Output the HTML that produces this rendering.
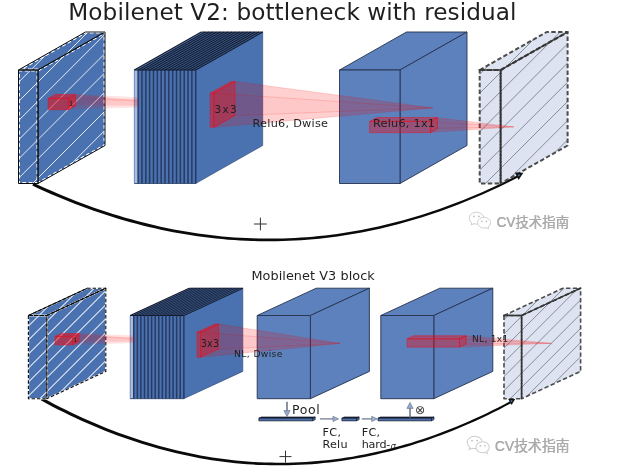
<!DOCTYPE html>
<html lang="zh"><head><meta charset="utf-8"><title>Mobilenet V2 / V3 blocks</title>
<style>html,body{margin:0;padding:0;background:#fff}svg{display:block}</style></head>
<body>
<svg width="639" height="474" viewBox="0 0 639 474" font-family="'DejaVu Sans','Liberation Sans',sans-serif">
<rect width="639" height="474" fill="#ffffff"/>
<text x="68.32" y="20.20" font-size="23.2" fill="#1f1f1f" letter-spacing="0.056">Mobilenet V2: bottleneck with residual</text>
<polygon points="32.34,185.60 38.48,188.45 44.62,191.22 50.76,193.92 56.89,196.54 63.03,199.09 69.16,201.56 75.29,203.96 81.42,206.28 87.55,208.53 93.68,210.71 99.80,212.81 105.93,214.83 112.05,216.78 118.17,218.66 124.29,220.46 130.41,222.19 136.53,223.84 142.64,225.42 148.76,226.92 154.87,228.35 160.98,229.70 167.09,230.98 173.19,232.18 179.30,233.31 185.40,234.36 191.51,235.34 197.61,236.24 203.71,237.07 209.80,237.83 215.90,238.51 222.00,239.11 228.09,239.65 234.18,240.10 240.27,240.48 246.36,240.79 252.44,241.02 258.53,241.18 264.61,241.26 270.69,241.27 276.77,241.20 282.85,241.06 288.93,240.84 295.00,240.55 301.07,240.18 307.14,239.74 313.21,239.23 319.28,238.64 325.35,237.97 331.41,237.23 337.47,236.42 343.53,235.53 349.59,234.56 355.65,233.53 361.70,232.41 367.76,231.23 373.81,229.96 379.86,228.63 385.91,227.21 391.95,225.73 398.00,224.17 404.04,222.53 410.08,220.82 416.12,219.04 422.16,217.18 428.19,215.24 434.22,213.23 440.26,211.15 446.29,208.99 452.31,206.76 458.34,204.45 464.36,202.07 470.39,199.61 476.41,197.08 482.43,194.48 488.44,191.80 494.46,189.04 500.47,186.21 506.48,183.31 512.49,180.33 518.50,177.28 517.50,175.32 511.50,178.35 505.51,181.31 499.51,184.20 493.52,187.01 487.52,189.74 481.52,192.40 475.52,194.99 469.51,197.50 463.51,199.93 457.50,202.30 451.50,204.58 445.49,206.80 439.48,208.94 433.47,211.00 427.46,212.99 421.44,214.90 415.43,216.75 409.41,218.51 403.40,220.20 397.38,221.82 391.36,223.36 385.34,224.83 379.32,226.23 373.29,227.55 367.27,228.79 361.24,229.96 355.21,231.06 349.18,232.08 343.15,233.03 337.12,233.90 331.09,234.70 325.05,235.43 319.02,236.08 312.98,236.65 306.94,237.16 300.90,237.58 294.86,237.94 288.82,238.22 282.77,238.42 276.73,238.55 270.68,238.61 264.63,238.59 258.58,238.49 252.53,238.33 246.48,238.09 240.42,237.77 234.37,237.38 228.31,236.91 222.25,236.38 216.19,235.76 210.13,235.07 204.07,234.31 198.00,233.48 191.94,232.57 185.87,231.58 179.80,230.52 173.73,229.39 167.66,228.18 161.58,226.90 155.51,225.54 149.43,224.11 143.35,222.61 137.27,221.03 131.19,219.37 125.11,217.64 119.02,215.84 112.93,213.97 106.85,212.01 100.76,209.99 94.67,207.89 88.57,205.71 82.48,203.47 76.38,201.14 70.28,198.74 64.18,196.27 58.08,193.73 51.98,191.11 45.87,188.41 39.77,185.64 33.66,182.80" fill="#0a0a0a"/>
<polygon points="18.50,70.00 85.50,32.00 105.00,32.00 38.00,70.00" fill="#4a72b0"/>
<polygon points="38.00,70.00 105.00,32.00 105.00,145.50 38.00,183.50" fill="#4a72b0"/>
<polygon points="18.50,70.00 38.00,70.00 38.00,183.50 18.50,183.50" fill="#4a72b0"/>
<clipPath id="c1"><polygon points="18.50,70.00 38.00,70.00 38.00,183.50 18.50,183.50"/><polygon points="38.00,70.00 105.00,32.00 105.00,145.50 38.00,183.50"/><polygon points="18.50,70.00 85.50,32.00 105.00,32.00 38.00,70.00"/></clipPath>
<g clip-path="url(#c1)" stroke="#ffffff" stroke-width="1.0" stroke-opacity="0.85">
<line x1="16.50" y1="45.90" x2="107.00" y2="-44.60" />
<line x1="16.50" y1="65.10" x2="107.00" y2="-25.40" />
<line x1="16.50" y1="84.30" x2="107.00" y2="-6.20" />
<line x1="16.50" y1="103.50" x2="107.00" y2="13.00" />
<line x1="16.50" y1="122.70" x2="107.00" y2="32.20" />
<line x1="16.50" y1="141.90" x2="107.00" y2="51.40" />
<line x1="16.50" y1="161.10" x2="107.00" y2="70.60" />
<line x1="16.50" y1="180.30" x2="107.00" y2="89.80" />
<line x1="16.50" y1="199.50" x2="107.00" y2="109.00" />
<line x1="16.50" y1="218.70" x2="107.00" y2="128.20" />
<line x1="16.50" y1="237.90" x2="107.00" y2="147.40" />
<line x1="16.50" y1="257.10" x2="107.00" y2="166.60" />
</g>
<clipPath id="c2"><polygon points="18.50,70.00 38.00,70.00 38.00,183.50 18.50,183.50"/></clipPath>
<polygon points="18.50,70.00 38.00,70.00 38.00,183.50 18.50,183.50" clip-path="url(#c2)" fill="none" stroke="#ffffff" stroke-width="3.0" stroke-dasharray="3.7 2.6"/>
<clipPath id="c3"><polygon points="18.50,70.00 85.50,32.00 105.00,32.00 38.00,70.00"/></clipPath>
<polyline points="38.00,70.00 18.50,70.00 85.50,32.00 105.00,32.00" clip-path="url(#c3)" fill="none" stroke="#ffffff" stroke-width="3.0" stroke-dasharray="3.7 2.6"/>
<clipPath id="c4"><polygon points="38.00,70.00 105.00,32.00 105.00,145.50 38.00,183.50"/></clipPath>
<polyline points="38.00,70.00 105.00,32.00 105.00,145.50 38.00,183.50" clip-path="url(#c4)" fill="none" stroke="#ffffff" stroke-width="3.0" stroke-dasharray="3.7 2.6"/>
<polygon points="18.50,70.00 85.50,32.00 105.00,32.00 38.00,70.00" fill="none" stroke="#0c0c0c" stroke-width="1.0" stroke-linejoin="round"/>
<polygon points="38.00,70.00 105.00,32.00 105.00,145.50 38.00,183.50" fill="none" stroke="#0c0c0c" stroke-width="1.0" stroke-linejoin="round"/>
<polygon points="18.50,70.00 38.00,70.00 38.00,183.50 18.50,183.50" fill="none" stroke="#0c0c0c" stroke-width="1.0" stroke-linejoin="round"/>
<line x1="85.50" y1="32.00" x2="105.00" y2="32.00" stroke="#9a9a9a" stroke-width="1.2"/>
<polygon points="134.30,70.00 201.30,32.00 262.70,32.00 195.70,70.00" fill="#2a3d63"/>
<polygon points="195.70,70.00 262.70,32.00 262.70,145.50 195.70,183.50" fill="#4a72b0" stroke="#2b4170" stroke-width="0.6"/>
<polygon points="134.30,70.00 195.70,70.00 195.70,183.50 134.30,183.50" fill="#4a72b0"/>
<polygon points="134.30,70.00 138.14,70.00 138.14,183.50 134.30,183.50" fill="#a9bbde"/>
<polygon points="134.30,70.00 201.30,32.00 205.14,32.00 138.14,70.00" fill="#5d7fb8"/>
<line x1="134.30" y1="70.00" x2="201.30" y2="32.00" stroke="#141c2e" stroke-width="1.1"/>
<line x1="138.14" y1="70.00" x2="205.14" y2="32.00" stroke="#141c2e" stroke-width="1.1"/>
<line x1="141.98" y1="70.00" x2="208.98" y2="32.00" stroke="#141c2e" stroke-width="1.1"/>
<line x1="145.81" y1="70.00" x2="212.81" y2="32.00" stroke="#141c2e" stroke-width="1.1"/>
<line x1="149.65" y1="70.00" x2="216.65" y2="32.00" stroke="#141c2e" stroke-width="1.1"/>
<line x1="153.49" y1="70.00" x2="220.49" y2="32.00" stroke="#141c2e" stroke-width="1.1"/>
<line x1="157.33" y1="70.00" x2="224.33" y2="32.00" stroke="#141c2e" stroke-width="1.1"/>
<line x1="161.16" y1="70.00" x2="228.16" y2="32.00" stroke="#141c2e" stroke-width="1.1"/>
<line x1="165.00" y1="70.00" x2="232.00" y2="32.00" stroke="#141c2e" stroke-width="1.1"/>
<line x1="168.84" y1="70.00" x2="235.84" y2="32.00" stroke="#141c2e" stroke-width="1.1"/>
<line x1="172.68" y1="70.00" x2="239.68" y2="32.00" stroke="#141c2e" stroke-width="1.1"/>
<line x1="176.51" y1="70.00" x2="243.51" y2="32.00" stroke="#141c2e" stroke-width="1.1"/>
<line x1="180.35" y1="70.00" x2="247.35" y2="32.00" stroke="#141c2e" stroke-width="1.1"/>
<line x1="184.19" y1="70.00" x2="251.19" y2="32.00" stroke="#141c2e" stroke-width="1.1"/>
<line x1="188.03" y1="70.00" x2="255.03" y2="32.00" stroke="#141c2e" stroke-width="1.1"/>
<line x1="191.86" y1="70.00" x2="258.86" y2="32.00" stroke="#141c2e" stroke-width="1.1"/>
<line x1="195.70" y1="70.00" x2="262.70" y2="32.00" stroke="#141c2e" stroke-width="1.1"/>
<line x1="140.06" y1="70.00" x2="207.06" y2="32.00" stroke="#4a72b0" stroke-width="0.55" stroke-opacity="0.9"/>
<line x1="143.89" y1="70.00" x2="210.89" y2="32.00" stroke="#4a72b0" stroke-width="0.55" stroke-opacity="0.9"/>
<line x1="147.73" y1="70.00" x2="214.73" y2="32.00" stroke="#4a72b0" stroke-width="0.55" stroke-opacity="0.9"/>
<line x1="151.57" y1="70.00" x2="218.57" y2="32.00" stroke="#4a72b0" stroke-width="0.55" stroke-opacity="0.9"/>
<line x1="155.41" y1="70.00" x2="222.41" y2="32.00" stroke="#4a72b0" stroke-width="0.55" stroke-opacity="0.9"/>
<line x1="159.24" y1="70.00" x2="226.24" y2="32.00" stroke="#4a72b0" stroke-width="0.55" stroke-opacity="0.9"/>
<line x1="163.08" y1="70.00" x2="230.08" y2="32.00" stroke="#4a72b0" stroke-width="0.55" stroke-opacity="0.9"/>
<line x1="166.92" y1="70.00" x2="233.92" y2="32.00" stroke="#4a72b0" stroke-width="0.55" stroke-opacity="0.9"/>
<line x1="170.76" y1="70.00" x2="237.76" y2="32.00" stroke="#4a72b0" stroke-width="0.55" stroke-opacity="0.9"/>
<line x1="174.59" y1="70.00" x2="241.59" y2="32.00" stroke="#4a72b0" stroke-width="0.55" stroke-opacity="0.9"/>
<line x1="178.43" y1="70.00" x2="245.43" y2="32.00" stroke="#4a72b0" stroke-width="0.55" stroke-opacity="0.9"/>
<line x1="182.27" y1="70.00" x2="249.27" y2="32.00" stroke="#4a72b0" stroke-width="0.55" stroke-opacity="0.9"/>
<line x1="186.11" y1="70.00" x2="253.11" y2="32.00" stroke="#4a72b0" stroke-width="0.55" stroke-opacity="0.9"/>
<line x1="189.94" y1="70.00" x2="256.94" y2="32.00" stroke="#4a72b0" stroke-width="0.55" stroke-opacity="0.9"/>
<line x1="193.78" y1="70.00" x2="260.78" y2="32.00" stroke="#4a72b0" stroke-width="0.55" stroke-opacity="0.9"/>
<line x1="138.14" y1="70.00" x2="138.14" y2="183.50" stroke="#273a62" stroke-width="1.5"/>
<line x1="141.98" y1="70.00" x2="141.98" y2="183.50" stroke="#273a62" stroke-width="1.5"/>
<line x1="145.81" y1="70.00" x2="145.81" y2="183.50" stroke="#273a62" stroke-width="1.5"/>
<line x1="149.65" y1="70.00" x2="149.65" y2="183.50" stroke="#273a62" stroke-width="1.5"/>
<line x1="153.49" y1="70.00" x2="153.49" y2="183.50" stroke="#273a62" stroke-width="1.5"/>
<line x1="157.33" y1="70.00" x2="157.33" y2="183.50" stroke="#273a62" stroke-width="1.5"/>
<line x1="161.16" y1="70.00" x2="161.16" y2="183.50" stroke="#273a62" stroke-width="1.5"/>
<line x1="165.00" y1="70.00" x2="165.00" y2="183.50" stroke="#273a62" stroke-width="1.5"/>
<line x1="168.84" y1="70.00" x2="168.84" y2="183.50" stroke="#273a62" stroke-width="1.5"/>
<line x1="172.68" y1="70.00" x2="172.68" y2="183.50" stroke="#273a62" stroke-width="1.5"/>
<line x1="176.51" y1="70.00" x2="176.51" y2="183.50" stroke="#273a62" stroke-width="1.5"/>
<line x1="180.35" y1="70.00" x2="180.35" y2="183.50" stroke="#273a62" stroke-width="1.5"/>
<line x1="184.19" y1="70.00" x2="184.19" y2="183.50" stroke="#273a62" stroke-width="1.5"/>
<line x1="188.03" y1="70.00" x2="188.03" y2="183.50" stroke="#273a62" stroke-width="1.5"/>
<line x1="191.86" y1="70.00" x2="191.86" y2="183.50" stroke="#273a62" stroke-width="1.5"/>
<line x1="195.70" y1="70.00" x2="195.70" y2="183.50" stroke="#273a62" stroke-width="1.5"/>
<line x1="134.30" y1="70.00" x2="134.30" y2="183.50" stroke="#6f86b5" stroke-width="0.8"/>
<line x1="134.30" y1="70.00" x2="195.70" y2="70.00" stroke="#141c2e" stroke-width="1.0"/>
<line x1="201.30" y1="32.00" x2="262.70" y2="32.00" stroke="#141c2e" stroke-width="0.9"/>
<line x1="134.30" y1="183.50" x2="195.70" y2="183.50" stroke="#2b3f66" stroke-width="0.8"/>
<polygon points="339.50,70.00 406.50,32.00 467.00,32.00 400.00,70.00" fill="#5c81bc" stroke="#26324e" stroke-width="0.9" stroke-linejoin="round"/>
<polygon points="400.00,70.00 467.00,32.00 467.00,145.50 400.00,183.50" fill="#5c81bc" stroke="#26324e" stroke-width="0.9" stroke-linejoin="round"/>
<polygon points="339.50,70.00 400.00,70.00 400.00,183.50 339.50,183.50" fill="#5c81bc" stroke="#26324e" stroke-width="0.9" stroke-linejoin="round"/>
<polygon points="479.70,70.00 546.70,32.00 567.60,32.00 500.60,70.00" fill="#dde3f0"/>
<polygon points="500.60,70.00 567.60,32.00 567.60,145.50 500.60,183.50" fill="#dde3f0"/>
<polygon points="479.70,70.00 500.60,70.00 500.60,183.50 479.70,183.50" fill="#dde3f0"/>
<clipPath id="c5"><polygon points="479.70,70.00 500.60,70.00 500.60,183.50 479.70,183.50"/><polygon points="500.60,70.00 567.60,32.00 567.60,145.50 500.60,183.50"/><polygon points="479.70,70.00 546.70,32.00 567.60,32.00 500.60,70.00"/></clipPath>
<g clip-path="url(#c5)" stroke="#555b66" stroke-width="0.7" stroke-opacity="0.9">
<line x1="477.70" y1="37.70" x2="569.60" y2="-54.20" />
<line x1="477.70" y1="56.90" x2="569.60" y2="-35.00" />
<line x1="477.70" y1="76.10" x2="569.60" y2="-15.80" />
<line x1="477.70" y1="95.30" x2="569.60" y2="3.40" />
<line x1="477.70" y1="114.50" x2="569.60" y2="22.60" />
<line x1="477.70" y1="133.70" x2="569.60" y2="41.80" />
<line x1="477.70" y1="152.90" x2="569.60" y2="61.00" />
<line x1="477.70" y1="172.10" x2="569.60" y2="80.20" />
<line x1="477.70" y1="191.30" x2="569.60" y2="99.40" />
<line x1="477.70" y1="210.50" x2="569.60" y2="118.60" />
<line x1="477.70" y1="229.70" x2="569.60" y2="137.80" />
<line x1="477.70" y1="248.90" x2="569.60" y2="157.00" />
<line x1="477.70" y1="268.10" x2="569.60" y2="176.20" />
</g>
<polygon points="479.70,70.00 546.70,32.00 567.60,32.00 500.60,70.00" fill="none" stroke="#4c4c4c" stroke-width="2.0" stroke-dasharray="4.4 2.4" stroke-linejoin="round"/>
<polygon points="500.60,70.00 567.60,32.00 567.60,145.50 500.60,183.50" fill="none" stroke="#4c4c4c" stroke-width="2.0" stroke-dasharray="4.4 2.4" stroke-linejoin="round"/>
<polygon points="479.70,70.00 500.60,70.00 500.60,183.50 479.70,183.50" fill="none" stroke="#4c4c4c" stroke-width="2.0" stroke-dasharray="4.4 2.4" stroke-linejoin="round"/>
<line x1="478.70" y1="70.00" x2="500.60" y2="70.00" stroke="#333" stroke-width="1.3"/>
<line x1="500.60" y1="70.00" x2="500.60" y2="183.50" stroke="#333" stroke-width="1.3"/>
<line x1="500.60" y1="70.00" x2="567.60" y2="32.00" stroke="#333" stroke-width="1.3"/>
<polygon points="48.10,98.40 55.30,94.40 75.60,94.40 68.40,98.40" fill="#ff0000" fill-opacity="0.5" stroke="#e0182d" stroke-width="0.7" stroke-opacity="0.8" stroke-linejoin="round"/>
<polygon points="68.40,98.40 75.60,94.40 75.60,105.70 68.40,109.70" fill="#ff0000" fill-opacity="0.5" stroke="#e0182d" stroke-width="0.7" stroke-opacity="0.8" stroke-linejoin="round"/>
<polygon points="48.10,98.40 68.40,98.40 68.40,109.70 48.10,109.70" fill="#ff0000" fill-opacity="0.5" stroke="#e0182d" stroke-width="0.7" stroke-opacity="0.8" stroke-linejoin="round"/>
<polygon points="68.00,98.60 138.10,99.30 138.10,107.50 68.00,109.60" fill="#ff0000" fill-opacity="0.115"/>
<polygon points="75.70,94.30 138.10,97.20 138.10,105.80 75.70,105.30" fill="#ff0000" fill-opacity="0.115"/>
<polygon points="75.70,94.30 138.10,100.50 138.10,101.50 68.00,98.60" fill="#ff0000" fill-opacity="0.12"/>
<text x="68.70" y="105.60" font-size="7.3" fill="#1f1f1f" letter-spacing="-0.169">1</text>
<polygon points="210.10,93.20 231.10,81.50 234.90,81.50 213.90,93.20" fill="#ff0000" fill-opacity="0.42" stroke="#e0182d" stroke-width="0.7" stroke-opacity="0.8" stroke-linejoin="round"/>
<polygon points="213.90,93.20 234.90,81.50 234.90,115.60 213.90,127.30" fill="#ff0000" fill-opacity="0.42" stroke="#e0182d" stroke-width="0.7" stroke-opacity="0.8" stroke-linejoin="round"/>
<polygon points="210.10,93.20 213.90,93.20 213.90,127.30 210.10,127.30" fill="#ff0000" fill-opacity="0.42" stroke="#e0182d" stroke-width="0.7" stroke-opacity="0.8" stroke-linejoin="round"/>
<polygon points="213.90,93.20 432.70,107.90 213.90,127.30" fill="#ff0000" fill-opacity="0.115" stroke="#ff0000" stroke-width="0.5" stroke-opacity="0.16"/>
<polygon points="234.90,81.50 432.70,107.90 234.90,115.60" fill="#ff0000" fill-opacity="0.115" stroke="#ff0000" stroke-width="0.5" stroke-opacity="0.16"/>
<polygon points="213.90,93.20 234.90,81.50 432.70,107.90" fill="#ff0000" fill-opacity="0.08" stroke="#ff0000" stroke-width="0.5" stroke-opacity="0.16"/>
<polygon points="213.90,127.30 234.90,115.60 432.70,107.90" fill="#ff0000" fill-opacity="0.08" stroke="#ff0000" stroke-width="0.5" stroke-opacity="0.16"/>
<text x="214.50" y="112.50" font-size="10.5" fill="#1f1f1f" letter-spacing="1.283">3x3</text>
<text x="252.49" y="126.90" font-size="11.3" fill="#1f1f1f" letter-spacing="0.246">Relu6, Dwise</text>
<polygon points="369.70,121.40 376.50,117.60 437.40,117.60 430.60,121.40" fill="#ff0000" fill-opacity="0.36" stroke="#e0182d" stroke-width="0.7" stroke-opacity="0.8" stroke-linejoin="round"/>
<polygon points="430.60,121.40 437.40,117.60 437.40,128.80 430.60,132.60" fill="#ff0000" fill-opacity="0.36" stroke="#e0182d" stroke-width="0.7" stroke-opacity="0.8" stroke-linejoin="round"/>
<polygon points="369.70,121.40 430.60,121.40 430.60,132.60 369.70,132.60" fill="#ff0000" fill-opacity="0.36" stroke="#e0182d" stroke-width="0.7" stroke-opacity="0.8" stroke-linejoin="round"/>
<polygon points="430.40,121.70 513.70,126.90 430.40,132.30" fill="#ff0000" fill-opacity="0.115" stroke="#ff0000" stroke-width="0.5" stroke-opacity="0.16"/>
<polygon points="436.90,117.70 513.70,126.90 436.90,128.30" fill="#ff0000" fill-opacity="0.115" stroke="#ff0000" stroke-width="0.5" stroke-opacity="0.16"/>
<polygon points="430.40,121.70 436.90,117.70 513.70,126.90" fill="#ff0000" fill-opacity="0.08" stroke="#ff0000" stroke-width="0.5" stroke-opacity="0.16"/>
<polygon points="430.40,132.30 436.90,128.30 513.70,126.90" fill="#ff0000" fill-opacity="0.08" stroke="#ff0000" stroke-width="0.5" stroke-opacity="0.16"/>
<text x="372.89" y="126.70" font-size="11.3" fill="#1f1f1f" letter-spacing="0.234">Relu6, 1x1</text>
<polygon points="523.4,172.7 514.8,172.6 518.6,180.0" fill="#141414"/>
<circle cx="518.9" cy="175.2" r="1.0" fill="#3f6fb3"/>
<line x1="254.00" y1="224.00" x2="266.80" y2="224.00" stroke="#333" stroke-width="1.0"/>
<line x1="260.40" y1="217.60" x2="260.40" y2="230.40" stroke="#333" stroke-width="1.0"/>
<text x="251.44" y="279.50" font-size="12.8" fill="#1f1f1f" letter-spacing="0.076">Mobilenet V3 block</text>
<polygon points="40.76,400.36 46.66,403.53 52.57,406.63 58.47,409.64 64.37,412.58 70.27,415.43 76.17,418.21 82.08,420.91 87.98,423.52 93.88,426.06 99.78,428.52 105.67,430.90 111.57,433.20 117.47,435.42 123.37,437.56 129.27,439.62 135.16,441.61 141.06,443.51 146.95,445.33 152.85,447.08 158.74,448.74 164.64,450.33 170.53,451.83 176.42,453.26 182.31,454.61 188.20,455.87 194.09,457.06 199.98,458.17 205.87,459.20 211.76,460.15 217.65,461.02 223.54,461.81 229.42,462.52 235.31,463.15 241.19,463.71 247.08,464.18 252.96,464.57 258.85,464.89 264.73,465.12 270.61,465.27 276.49,465.35 282.37,465.35 288.25,465.26 294.13,465.10 300.01,464.86 305.88,464.54 311.76,464.13 317.63,463.65 323.51,463.09 329.38,462.45 335.26,461.74 341.13,460.94 347.00,460.06 352.87,459.10 358.74,458.07 364.61,456.95 370.47,455.75 376.34,454.48 382.21,453.12 388.07,451.69 393.93,450.18 399.80,448.59 405.66,446.91 411.52,445.16 417.38,443.33 423.24,441.42 429.10,439.44 434.96,437.37 440.81,435.22 446.67,432.99 452.52,430.69 458.38,428.30 464.23,425.84 470.08,423.29 475.93,420.67 481.78,417.97 487.63,415.19 493.48,412.33 499.33,409.39 505.17,406.37 511.02,403.27 509.98,401.33 504.15,404.41 498.32,407.41 492.49,410.33 486.66,413.16 480.83,415.93 475.00,418.61 469.16,421.21 463.33,423.73 457.50,426.18 451.66,428.54 445.83,430.83 440.00,433.03 434.16,435.16 428.33,437.21 422.49,439.18 416.66,441.07 410.82,442.88 404.99,444.61 399.15,446.26 393.32,447.83 387.48,449.33 381.64,450.74 375.80,452.08 369.97,453.34 364.13,454.51 358.29,455.61 352.45,456.63 346.61,457.57 340.77,458.44 334.93,459.22 329.09,459.92 323.25,460.55 317.41,461.09 311.57,461.56 305.73,461.95 299.88,462.26 294.04,462.48 288.20,462.64 282.35,462.71 276.51,462.70 270.66,462.61 264.82,462.45 258.97,462.20 253.13,461.88 247.28,461.48 241.43,461.00 235.59,460.44 229.74,459.80 223.89,459.08 218.04,458.28 212.19,457.41 206.34,456.45 200.49,455.42 194.63,454.31 188.78,453.11 182.93,451.84 177.07,450.49 171.22,449.07 165.36,447.56 159.51,445.97 153.65,444.31 147.79,442.56 141.94,440.74 136.08,438.83 130.22,436.85 124.36,434.79 118.50,432.65 112.64,430.43 106.77,428.13 100.91,425.76 95.05,423.30 89.18,420.77 83.32,418.15 77.45,415.46 71.59,412.69 65.72,409.84 59.85,406.91 53.98,403.90 48.11,400.81 42.24,397.64" fill="#0a0a0a"/>
<polygon points="28.40,315.50 87.40,288.20 105.80,288.20 46.80,315.50" fill="#4a72b0"/>
<polygon points="46.80,315.50 105.80,288.20 105.80,371.40 46.80,398.70" fill="#4a72b0"/>
<polygon points="28.40,315.50 46.80,315.50 46.80,398.70 28.40,398.70" fill="#4a72b0"/>
<clipPath id="c6"><polygon points="28.40,315.50 46.80,315.50 46.80,398.70 28.40,398.70"/><polygon points="46.80,315.50 105.80,288.20 105.80,371.40 46.80,398.70"/><polygon points="28.40,315.50 87.40,288.20 105.80,288.20 46.80,315.50"/></clipPath>
<g clip-path="url(#c6)" stroke="#ffffff" stroke-width="1.1" stroke-opacity="0.85">
<line x1="26.40" y1="300.10" x2="107.80" y2="218.70" />
<line x1="26.40" y1="314.10" x2="107.80" y2="232.70" />
<line x1="26.40" y1="328.10" x2="107.80" y2="246.70" />
<line x1="26.40" y1="342.10" x2="107.80" y2="260.70" />
<line x1="26.40" y1="356.10" x2="107.80" y2="274.70" />
<line x1="26.40" y1="370.10" x2="107.80" y2="288.70" />
<line x1="26.40" y1="384.10" x2="107.80" y2="302.70" />
<line x1="26.40" y1="398.10" x2="107.80" y2="316.70" />
<line x1="26.40" y1="412.10" x2="107.80" y2="330.70" />
<line x1="26.40" y1="426.10" x2="107.80" y2="344.70" />
<line x1="26.40" y1="440.10" x2="107.80" y2="358.70" />
<line x1="26.40" y1="454.10" x2="107.80" y2="372.70" />
<line x1="26.40" y1="468.10" x2="107.80" y2="386.70" />
</g>
<polygon points="28.40,315.50 87.40,288.20 105.80,288.20 46.80,315.50" fill="none" stroke="#f4f4f4" stroke-width="1.5" stroke-linejoin="round"/>
<polygon points="46.80,315.50 105.80,288.20 105.80,371.40 46.80,398.70" fill="none" stroke="#f4f4f4" stroke-width="1.5" stroke-linejoin="round"/>
<polygon points="28.40,315.50 46.80,315.50 46.80,398.70 28.40,398.70" fill="none" stroke="#f4f4f4" stroke-width="1.5" stroke-linejoin="round"/>
<polygon points="28.40,315.50 87.40,288.20 105.80,288.20 46.80,315.50" fill="none" stroke="#0c0c0c" stroke-width="1.1" stroke-dasharray="3.4 2.0" stroke-linejoin="round"/>
<polygon points="46.80,315.50 105.80,288.20 105.80,371.40 46.80,398.70" fill="none" stroke="#0c0c0c" stroke-width="1.1" stroke-dasharray="3.4 2.0" stroke-linejoin="round"/>
<polygon points="28.40,315.50 46.80,315.50 46.80,398.70 28.40,398.70" fill="none" stroke="#0c0c0c" stroke-width="1.1" stroke-dasharray="3.4 2.0" stroke-linejoin="round"/>
<line x1="46.80" y1="315.50" x2="105.80" y2="288.20" stroke="#0c0c0c" stroke-width="1.0"/>
<line x1="28.40" y1="315.50" x2="87.40" y2="288.20" stroke="#0c0c0c" stroke-width="1.0"/>
<polygon points="130.20,315.50 189.20,288.20 242.80,288.20 183.80,315.50" fill="#2a3d63"/>
<polygon points="183.80,315.50 242.80,288.20 242.80,371.40 183.80,398.70" fill="#4a72b0" stroke="#2b4170" stroke-width="0.6"/>
<polygon points="130.20,315.50 183.80,315.50 183.80,398.70 130.20,398.70" fill="#4a72b0"/>
<polygon points="130.20,315.50 133.77,315.50 133.77,398.70 130.20,398.70" fill="#a9bbde"/>
<polygon points="130.20,315.50 189.20,288.20 192.77,288.20 133.77,315.50" fill="#5d7fb8"/>
<line x1="130.20" y1="315.50" x2="189.20" y2="288.20" stroke="#141c2e" stroke-width="1.1"/>
<line x1="133.77" y1="315.50" x2="192.77" y2="288.20" stroke="#141c2e" stroke-width="1.1"/>
<line x1="137.35" y1="315.50" x2="196.35" y2="288.20" stroke="#141c2e" stroke-width="1.1"/>
<line x1="140.92" y1="315.50" x2="199.92" y2="288.20" stroke="#141c2e" stroke-width="1.1"/>
<line x1="144.49" y1="315.50" x2="203.49" y2="288.20" stroke="#141c2e" stroke-width="1.1"/>
<line x1="148.07" y1="315.50" x2="207.07" y2="288.20" stroke="#141c2e" stroke-width="1.1"/>
<line x1="151.64" y1="315.50" x2="210.64" y2="288.20" stroke="#141c2e" stroke-width="1.1"/>
<line x1="155.21" y1="315.50" x2="214.21" y2="288.20" stroke="#141c2e" stroke-width="1.1"/>
<line x1="158.79" y1="315.50" x2="217.79" y2="288.20" stroke="#141c2e" stroke-width="1.1"/>
<line x1="162.36" y1="315.50" x2="221.36" y2="288.20" stroke="#141c2e" stroke-width="1.1"/>
<line x1="165.93" y1="315.50" x2="224.93" y2="288.20" stroke="#141c2e" stroke-width="1.1"/>
<line x1="169.51" y1="315.50" x2="228.51" y2="288.20" stroke="#141c2e" stroke-width="1.1"/>
<line x1="173.08" y1="315.50" x2="232.08" y2="288.20" stroke="#141c2e" stroke-width="1.1"/>
<line x1="176.65" y1="315.50" x2="235.65" y2="288.20" stroke="#141c2e" stroke-width="1.1"/>
<line x1="180.23" y1="315.50" x2="239.23" y2="288.20" stroke="#141c2e" stroke-width="1.1"/>
<line x1="183.80" y1="315.50" x2="242.80" y2="288.20" stroke="#141c2e" stroke-width="1.1"/>
<line x1="135.56" y1="315.50" x2="194.56" y2="288.20" stroke="#4a72b0" stroke-width="0.55" stroke-opacity="0.9"/>
<line x1="139.13" y1="315.50" x2="198.13" y2="288.20" stroke="#4a72b0" stroke-width="0.55" stroke-opacity="0.9"/>
<line x1="142.71" y1="315.50" x2="201.71" y2="288.20" stroke="#4a72b0" stroke-width="0.55" stroke-opacity="0.9"/>
<line x1="146.28" y1="315.50" x2="205.28" y2="288.20" stroke="#4a72b0" stroke-width="0.55" stroke-opacity="0.9"/>
<line x1="149.85" y1="315.50" x2="208.85" y2="288.20" stroke="#4a72b0" stroke-width="0.55" stroke-opacity="0.9"/>
<line x1="153.43" y1="315.50" x2="212.43" y2="288.20" stroke="#4a72b0" stroke-width="0.55" stroke-opacity="0.9"/>
<line x1="157.00" y1="315.50" x2="216.00" y2="288.20" stroke="#4a72b0" stroke-width="0.55" stroke-opacity="0.9"/>
<line x1="160.57" y1="315.50" x2="219.57" y2="288.20" stroke="#4a72b0" stroke-width="0.55" stroke-opacity="0.9"/>
<line x1="164.15" y1="315.50" x2="223.15" y2="288.20" stroke="#4a72b0" stroke-width="0.55" stroke-opacity="0.9"/>
<line x1="167.72" y1="315.50" x2="226.72" y2="288.20" stroke="#4a72b0" stroke-width="0.55" stroke-opacity="0.9"/>
<line x1="171.29" y1="315.50" x2="230.29" y2="288.20" stroke="#4a72b0" stroke-width="0.55" stroke-opacity="0.9"/>
<line x1="174.87" y1="315.50" x2="233.87" y2="288.20" stroke="#4a72b0" stroke-width="0.55" stroke-opacity="0.9"/>
<line x1="178.44" y1="315.50" x2="237.44" y2="288.20" stroke="#4a72b0" stroke-width="0.55" stroke-opacity="0.9"/>
<line x1="182.01" y1="315.50" x2="241.01" y2="288.20" stroke="#4a72b0" stroke-width="0.55" stroke-opacity="0.9"/>
<line x1="133.77" y1="315.50" x2="133.77" y2="398.70" stroke="#273a62" stroke-width="1.5"/>
<line x1="137.35" y1="315.50" x2="137.35" y2="398.70" stroke="#273a62" stroke-width="1.5"/>
<line x1="140.92" y1="315.50" x2="140.92" y2="398.70" stroke="#273a62" stroke-width="1.5"/>
<line x1="144.49" y1="315.50" x2="144.49" y2="398.70" stroke="#273a62" stroke-width="1.5"/>
<line x1="148.07" y1="315.50" x2="148.07" y2="398.70" stroke="#273a62" stroke-width="1.5"/>
<line x1="151.64" y1="315.50" x2="151.64" y2="398.70" stroke="#273a62" stroke-width="1.5"/>
<line x1="155.21" y1="315.50" x2="155.21" y2="398.70" stroke="#273a62" stroke-width="1.5"/>
<line x1="158.79" y1="315.50" x2="158.79" y2="398.70" stroke="#273a62" stroke-width="1.5"/>
<line x1="162.36" y1="315.50" x2="162.36" y2="398.70" stroke="#273a62" stroke-width="1.5"/>
<line x1="165.93" y1="315.50" x2="165.93" y2="398.70" stroke="#273a62" stroke-width="1.5"/>
<line x1="169.51" y1="315.50" x2="169.51" y2="398.70" stroke="#273a62" stroke-width="1.5"/>
<line x1="173.08" y1="315.50" x2="173.08" y2="398.70" stroke="#273a62" stroke-width="1.5"/>
<line x1="176.65" y1="315.50" x2="176.65" y2="398.70" stroke="#273a62" stroke-width="1.5"/>
<line x1="180.23" y1="315.50" x2="180.23" y2="398.70" stroke="#273a62" stroke-width="1.5"/>
<line x1="183.80" y1="315.50" x2="183.80" y2="398.70" stroke="#273a62" stroke-width="1.5"/>
<line x1="130.20" y1="315.50" x2="130.20" y2="398.70" stroke="#6f86b5" stroke-width="0.8"/>
<line x1="130.20" y1="315.50" x2="183.80" y2="315.50" stroke="#141c2e" stroke-width="1.0"/>
<line x1="189.20" y1="288.20" x2="242.80" y2="288.20" stroke="#141c2e" stroke-width="0.9"/>
<line x1="130.20" y1="398.70" x2="183.80" y2="398.70" stroke="#2b3f66" stroke-width="0.8"/>
<polygon points="257.20,315.50 316.20,288.20 369.40,288.20 310.40,315.50" fill="#5c81bc" stroke="#26324e" stroke-width="0.9" stroke-linejoin="round"/>
<polygon points="310.40,315.50 369.40,288.20 369.40,371.40 310.40,398.70" fill="#5c81bc" stroke="#26324e" stroke-width="0.9" stroke-linejoin="round"/>
<polygon points="257.20,315.50 310.40,315.50 310.40,398.70 257.20,398.70" fill="#5c81bc" stroke="#26324e" stroke-width="0.9" stroke-linejoin="round"/>
<polygon points="380.80,315.50 439.80,288.20 492.80,288.20 433.80,315.50" fill="#5c81bc" stroke="#26324e" stroke-width="0.9" stroke-linejoin="round"/>
<polygon points="433.80,315.50 492.80,288.20 492.80,371.40 433.80,398.70" fill="#5c81bc" stroke="#26324e" stroke-width="0.9" stroke-linejoin="round"/>
<polygon points="380.80,315.50 433.80,315.50 433.80,398.70 380.80,398.70" fill="#5c81bc" stroke="#26324e" stroke-width="0.9" stroke-linejoin="round"/>
<polygon points="504.00,315.50 563.00,288.20 580.60,288.20 521.60,315.50" fill="#dde3f0"/>
<polygon points="521.60,315.50 580.60,288.20 580.60,371.40 521.60,398.70" fill="#dde3f0"/>
<polygon points="504.00,315.50 521.60,315.50 521.60,398.70 504.00,398.70" fill="#dde3f0"/>
<clipPath id="c7"><polygon points="504.00,315.50 521.60,315.50 521.60,398.70 504.00,398.70"/><polygon points="521.60,315.50 580.60,288.20 580.60,371.40 521.60,398.70"/><polygon points="504.00,315.50 563.00,288.20 580.60,288.20 521.60,315.50"/></clipPath>
<g clip-path="url(#c7)" stroke="#555b66" stroke-width="0.7" stroke-opacity="0.9">
<line x1="502.00" y1="293.30" x2="582.60" y2="212.70" />
<line x1="502.00" y1="307.50" x2="582.60" y2="226.90" />
<line x1="502.00" y1="321.70" x2="582.60" y2="241.10" />
<line x1="502.00" y1="335.90" x2="582.60" y2="255.30" />
<line x1="502.00" y1="350.10" x2="582.60" y2="269.50" />
<line x1="502.00" y1="364.30" x2="582.60" y2="283.70" />
<line x1="502.00" y1="378.50" x2="582.60" y2="297.90" />
<line x1="502.00" y1="392.70" x2="582.60" y2="312.10" />
<line x1="502.00" y1="406.90" x2="582.60" y2="326.30" />
<line x1="502.00" y1="421.10" x2="582.60" y2="340.50" />
<line x1="502.00" y1="435.30" x2="582.60" y2="354.70" />
<line x1="502.00" y1="449.50" x2="582.60" y2="368.90" />
<line x1="502.00" y1="463.70" x2="582.60" y2="383.10" />
</g>
<polygon points="504.00,315.50 563.00,288.20 580.60,288.20 521.60,315.50" fill="none" stroke="#4c4c4c" stroke-width="1.6" stroke-dasharray="4.4 2.4" stroke-linejoin="round"/>
<polygon points="521.60,315.50 580.60,288.20 580.60,371.40 521.60,398.70" fill="none" stroke="#4c4c4c" stroke-width="1.6" stroke-dasharray="4.4 2.4" stroke-linejoin="round"/>
<polygon points="504.00,315.50 521.60,315.50 521.60,398.70 504.00,398.70" fill="none" stroke="#4c4c4c" stroke-width="1.6" stroke-dasharray="4.4 2.4" stroke-linejoin="round"/>
<line x1="503.00" y1="315.50" x2="521.60" y2="315.50" stroke="#333" stroke-width="1.3"/>
<line x1="521.60" y1="315.50" x2="521.60" y2="398.70" stroke="#333" stroke-width="1.3"/>
<line x1="521.60" y1="315.50" x2="580.60" y2="288.20" stroke="#333" stroke-width="1.3"/>
<polygon points="55.00,336.40 61.30,333.60 79.10,333.60 72.80,336.40" fill="#ff0000" fill-opacity="0.5" stroke="#e0182d" stroke-width="0.7" stroke-opacity="0.8" stroke-linejoin="round"/>
<polygon points="72.80,336.40 79.10,333.60 79.10,342.10 72.80,344.90" fill="#ff0000" fill-opacity="0.5" stroke="#e0182d" stroke-width="0.7" stroke-opacity="0.8" stroke-linejoin="round"/>
<polygon points="55.00,336.40 72.80,336.40 72.80,344.90 55.00,344.90" fill="#ff0000" fill-opacity="0.5" stroke="#e0182d" stroke-width="0.7" stroke-opacity="0.8" stroke-linejoin="round"/>
<polygon points="72.70,336.50 134.30,337.40 134.30,342.90 72.70,345.10" fill="#ff0000" fill-opacity="0.115"/>
<polygon points="79.20,333.30 134.30,335.60 134.30,341.60 79.20,341.90" fill="#ff0000" fill-opacity="0.115"/>
<polygon points="79.20,333.30 134.30,338.30 134.30,339.20 72.70,336.50" fill="#ff0000" fill-opacity="0.12"/>
<text x="73.44" y="341.80" font-size="6.0" fill="#1f1f1f" letter-spacing="-0.704">1</text>
<polygon points="197.00,332.20 215.00,324.10 218.50,324.10 200.50,332.20" fill="#ff0000" fill-opacity="0.42" stroke="#e0182d" stroke-width="0.7" stroke-opacity="0.8" stroke-linejoin="round"/>
<polygon points="200.50,332.20 218.50,324.10 218.50,349.10 200.50,357.20" fill="#ff0000" fill-opacity="0.42" stroke="#e0182d" stroke-width="0.7" stroke-opacity="0.8" stroke-linejoin="round"/>
<polygon points="197.00,332.20 200.50,332.20 200.50,357.20 197.00,357.20" fill="#ff0000" fill-opacity="0.42" stroke="#e0182d" stroke-width="0.7" stroke-opacity="0.8" stroke-linejoin="round"/>
<polygon points="200.50,332.20 340.00,343.40 200.50,357.20" fill="#ff0000" fill-opacity="0.115" stroke="#ff0000" stroke-width="0.5" stroke-opacity="0.16"/>
<polygon points="218.50,324.10 340.00,343.40 218.50,349.10" fill="#ff0000" fill-opacity="0.115" stroke="#ff0000" stroke-width="0.5" stroke-opacity="0.16"/>
<polygon points="200.50,332.20 218.50,324.10 340.00,343.40" fill="#ff0000" fill-opacity="0.08" stroke="#ff0000" stroke-width="0.5" stroke-opacity="0.16"/>
<polygon points="200.50,357.20 218.50,349.10 340.00,343.40" fill="#ff0000" fill-opacity="0.08" stroke="#ff0000" stroke-width="0.5" stroke-opacity="0.16"/>
<text x="200.66" y="347.30" font-size="9.7" fill="#1f1f1f" letter-spacing="0.166">3x3</text>
<text x="234.10" y="356.80" font-size="9.2" fill="#1f1f1f" letter-spacing="0.365">NL, Dwise</text>
<polygon points="407.10,338.80 413.60,335.80 466.00,335.80 459.50,338.80" fill="#ff0000" fill-opacity="0.36" stroke="#e0182d" stroke-width="0.7" stroke-opacity="0.8" stroke-linejoin="round"/>
<polygon points="459.50,338.80 466.00,335.80 466.00,344.10 459.50,347.10" fill="#ff0000" fill-opacity="0.36" stroke="#e0182d" stroke-width="0.7" stroke-opacity="0.8" stroke-linejoin="round"/>
<polygon points="407.10,338.80 459.50,338.80 459.50,347.10 407.10,347.10" fill="#ff0000" fill-opacity="0.36" stroke="#e0182d" stroke-width="0.7" stroke-opacity="0.8" stroke-linejoin="round"/>
<polygon points="459.50,338.80 551.30,343.30 459.50,347.10" fill="#ff0000" fill-opacity="0.115" stroke="#ff0000" stroke-width="0.5" stroke-opacity="0.16"/>
<polygon points="466.00,335.80 551.30,343.30 466.00,344.10" fill="#ff0000" fill-opacity="0.115" stroke="#ff0000" stroke-width="0.5" stroke-opacity="0.16"/>
<polygon points="459.50,338.80 466.00,335.80 551.30,343.30" fill="#ff0000" fill-opacity="0.08" stroke="#ff0000" stroke-width="0.5" stroke-opacity="0.16"/>
<polygon points="459.50,347.10 466.00,344.10 551.30,343.30" fill="#ff0000" fill-opacity="0.08" stroke="#ff0000" stroke-width="0.5" stroke-opacity="0.16"/>
<text x="471.91" y="341.60" font-size="9.1" fill="#1f1f1f" letter-spacing="0.301">NL, 1x1</text>
<polygon points="515.2,399.0 508.2,399.0 511.6,404.9" fill="#141414"/>
<circle cx="511.5" cy="401.0" r="0.9" fill="#3f6fb3"/>
<line x1="279.50" y1="456.60" x2="291.50" y2="456.60" stroke="#333" stroke-width="1.0"/>
<line x1="285.50" y1="450.60" x2="285.50" y2="462.60" stroke="#333" stroke-width="1.0"/>
<polygon points="312.70,418.20 315.20,417.00 315.20,419.60 312.70,420.80" fill="#4a72b0" stroke="#141a2c" stroke-width="0.7" stroke-linejoin="round"/>
<polygon points="258.90,418.20 261.40,417.00 315.20,417.00 312.70,418.20" fill="#1c2740" stroke="#141a2c" stroke-width="0.7" stroke-linejoin="round"/>
<polygon points="258.90,418.20 312.70,418.20 312.70,420.80 258.90,420.80" fill="#4a72b0" stroke="#141a2c" stroke-width="0.8" stroke-linejoin="round"/>
<polygon points="356.60,418.20 359.10,417.00 359.10,419.60 356.60,420.80" fill="#4a72b0" stroke="#141a2c" stroke-width="0.7" stroke-linejoin="round"/>
<polygon points="341.90,418.20 344.40,417.00 359.10,417.00 356.60,418.20" fill="#1c2740" stroke="#141a2c" stroke-width="0.7" stroke-linejoin="round"/>
<polygon points="341.90,418.20 356.60,418.20 356.60,420.80 341.90,420.80" fill="#4a72b0" stroke="#141a2c" stroke-width="0.8" stroke-linejoin="round"/>
<polygon points="431.50,418.20 434.00,417.00 434.00,419.60 431.50,420.80" fill="#4a72b0" stroke="#141a2c" stroke-width="0.7" stroke-linejoin="round"/>
<polygon points="378.00,418.20 380.50,417.00 434.00,417.00 431.50,418.20" fill="#1c2740" stroke="#141a2c" stroke-width="0.7" stroke-linejoin="round"/>
<polygon points="378.00,418.20 431.50,418.20 431.50,420.80 378.00,420.80" fill="#4a72b0" stroke="#141a2c" stroke-width="0.8" stroke-linejoin="round"/>
<line x1="320.00" y1="418.90" x2="335.60" y2="418.90" stroke="#6f7888" stroke-width="1.25"/>
<polygon points="338.60,418.90 333.00,416.30 333.00,421.50" fill="#9bb1d6" stroke="#6f7888" stroke-width="0.7"/>
<line x1="361.80" y1="418.90" x2="374.30" y2="418.90" stroke="#6f7888" stroke-width="1.25"/>
<polygon points="377.30,418.90 371.70,416.30 371.70,421.50" fill="#9bb1d6" stroke="#6f7888" stroke-width="0.7"/>
<line x1="287.00" y1="401.80" x2="287.00" y2="412.50" stroke="#6f7888" stroke-width="1.6"/>
<polygon points="287.00,416.60 283.90,410.60 290.10,410.60" fill="#93a9d0" stroke="#6f7888" stroke-width="0.7"/>
<line x1="410.00" y1="417.50" x2="410.00" y2="407.00" stroke="#6f7888" stroke-width="1.6"/>
<polygon points="410.00,402.40 406.90,408.40 413.10,408.40" fill="#93a9d0" stroke="#6f7888" stroke-width="0.7"/>
<text x="292.12" y="413.50" font-size="12.5" fill="#1f1f1f" letter-spacing="0.548">Pool</text>
<text x="415.09" y="413.60" font-size="12.2" fill="#3a3a3a" letter-spacing="0.206">⊗</text>
<text x="322.60" y="435.70" font-size="11.2" fill="#1f1f1f" letter-spacing="0.285">FC,</text>
<text x="322.60" y="448.10" font-size="11.2" fill="#1f1f1f" letter-spacing="0.178">Relu</text>
<text x="361.70" y="435.70" font-size="11.2" fill="#1f1f1f" letter-spacing="0.285">FC,</text>
<text x="361.78" y="448.10" font-size="11.2" fill="#1f1f1f" letter-spacing="-0.238">hard-</text>
<text x="390.86" y="448.60" font-size="8.0" fill="#1f1f1f" letter-spacing="1.505" font-style="italic">σ</text>
<g transform="translate(468.5,211) scale(1.0)" fill="#ffffff" stroke="#cfcfcf" stroke-width="1">
<path d="M8 1.2 C3.8 1.2 0.8 3.9 0.8 7.2 C0.8 9.1 1.8 10.7 3.4 11.8 L2.7 14 L5.4 12.7 C6.2 12.9 7.1 13.1 8 13.1 C12.2 13.1 15.2 10.5 15.2 7.2 C15.2 3.9 12.2 1.2 8 1.2 Z"/>
<path d="M15.6 6.4 C11.9 6.4 9.2 8.8 9.2 11.7 C9.2 14.6 11.9 17 15.6 17 C16.4 17 17.1 16.9 17.8 16.7 L20.2 17.9 L19.6 15.9 C21 14.9 22 13.4 22 11.7 C22 8.8 19.3 6.4 15.6 6.4 Z"/>
<g fill="#bdbdbd" stroke="none"><circle cx="5.4" cy="5.4" r="0.9"/><circle cx="10.4" cy="5.4" r="0.9"/><circle cx="13.4" cy="10.4" r="0.8"/><circle cx="17.8" cy="10.4" r="0.8"/></g>
</g>
<text x="496.3" y="226.8" font-size="14" fill="#ffffff" stroke="#ffffff" stroke-width="2.4" stroke-linejoin="round" font-family="'Liberation Sans','Noto Sans CJK SC',sans-serif" textLength="72.4" lengthAdjust="spacingAndGlyphs">CV技术指南</text>
<text x="497.0" y="227.4" font-size="14" fill="#707070" fill-opacity="0.45" font-family="'Liberation Sans','Noto Sans CJK SC',sans-serif" textLength="72.4" lengthAdjust="spacingAndGlyphs">CV技术指南</text>
<text x="496.5" y="226.9" font-size="14" fill="#a9a9a9" stroke="#a9a9a9" stroke-width="0.15" font-family="'Liberation Sans','Noto Sans CJK SC',sans-serif" textLength="72.4" lengthAdjust="spacingAndGlyphs">CV技术指南</text>
<g transform="translate(466.4,435.0) scale(1.04)" fill="#ffffff" stroke="#cfcfcf" stroke-width="1">
<path d="M8 1.2 C3.8 1.2 0.8 3.9 0.8 7.2 C0.8 9.1 1.8 10.7 3.4 11.8 L2.7 14 L5.4 12.7 C6.2 12.9 7.1 13.1 8 13.1 C12.2 13.1 15.2 10.5 15.2 7.2 C15.2 3.9 12.2 1.2 8 1.2 Z"/>
<path d="M15.6 6.4 C11.9 6.4 9.2 8.8 9.2 11.7 C9.2 14.6 11.9 17 15.6 17 C16.4 17 17.1 16.9 17.8 16.7 L20.2 17.9 L19.6 15.9 C21 14.9 22 13.4 22 11.7 C22 8.8 19.3 6.4 15.6 6.4 Z"/>
<g fill="#bdbdbd" stroke="none"><circle cx="5.4" cy="5.4" r="0.9"/><circle cx="10.4" cy="5.4" r="0.9"/><circle cx="13.4" cy="10.4" r="0.8"/><circle cx="17.8" cy="10.4" r="0.8"/></g>
</g>
<text x="494.6" y="450.8" font-size="14.4" fill="#ffffff" stroke="#ffffff" stroke-width="2.4" stroke-linejoin="round" font-family="'Liberation Sans','Noto Sans CJK SC',sans-serif" textLength="74.6" lengthAdjust="spacingAndGlyphs">CV技术指南</text>
<text x="495.3" y="451.40000000000003" font-size="14.4" fill="#707070" fill-opacity="0.45" font-family="'Liberation Sans','Noto Sans CJK SC',sans-serif" textLength="74.6" lengthAdjust="spacingAndGlyphs">CV技术指南</text>
<text x="494.8" y="450.90000000000003" font-size="14.4" fill="#a9a9a9" stroke="#a9a9a9" stroke-width="0.15" font-family="'Liberation Sans','Noto Sans CJK SC',sans-serif" textLength="74.6" lengthAdjust="spacingAndGlyphs">CV技术指南</text>
</svg>
</body></html>
